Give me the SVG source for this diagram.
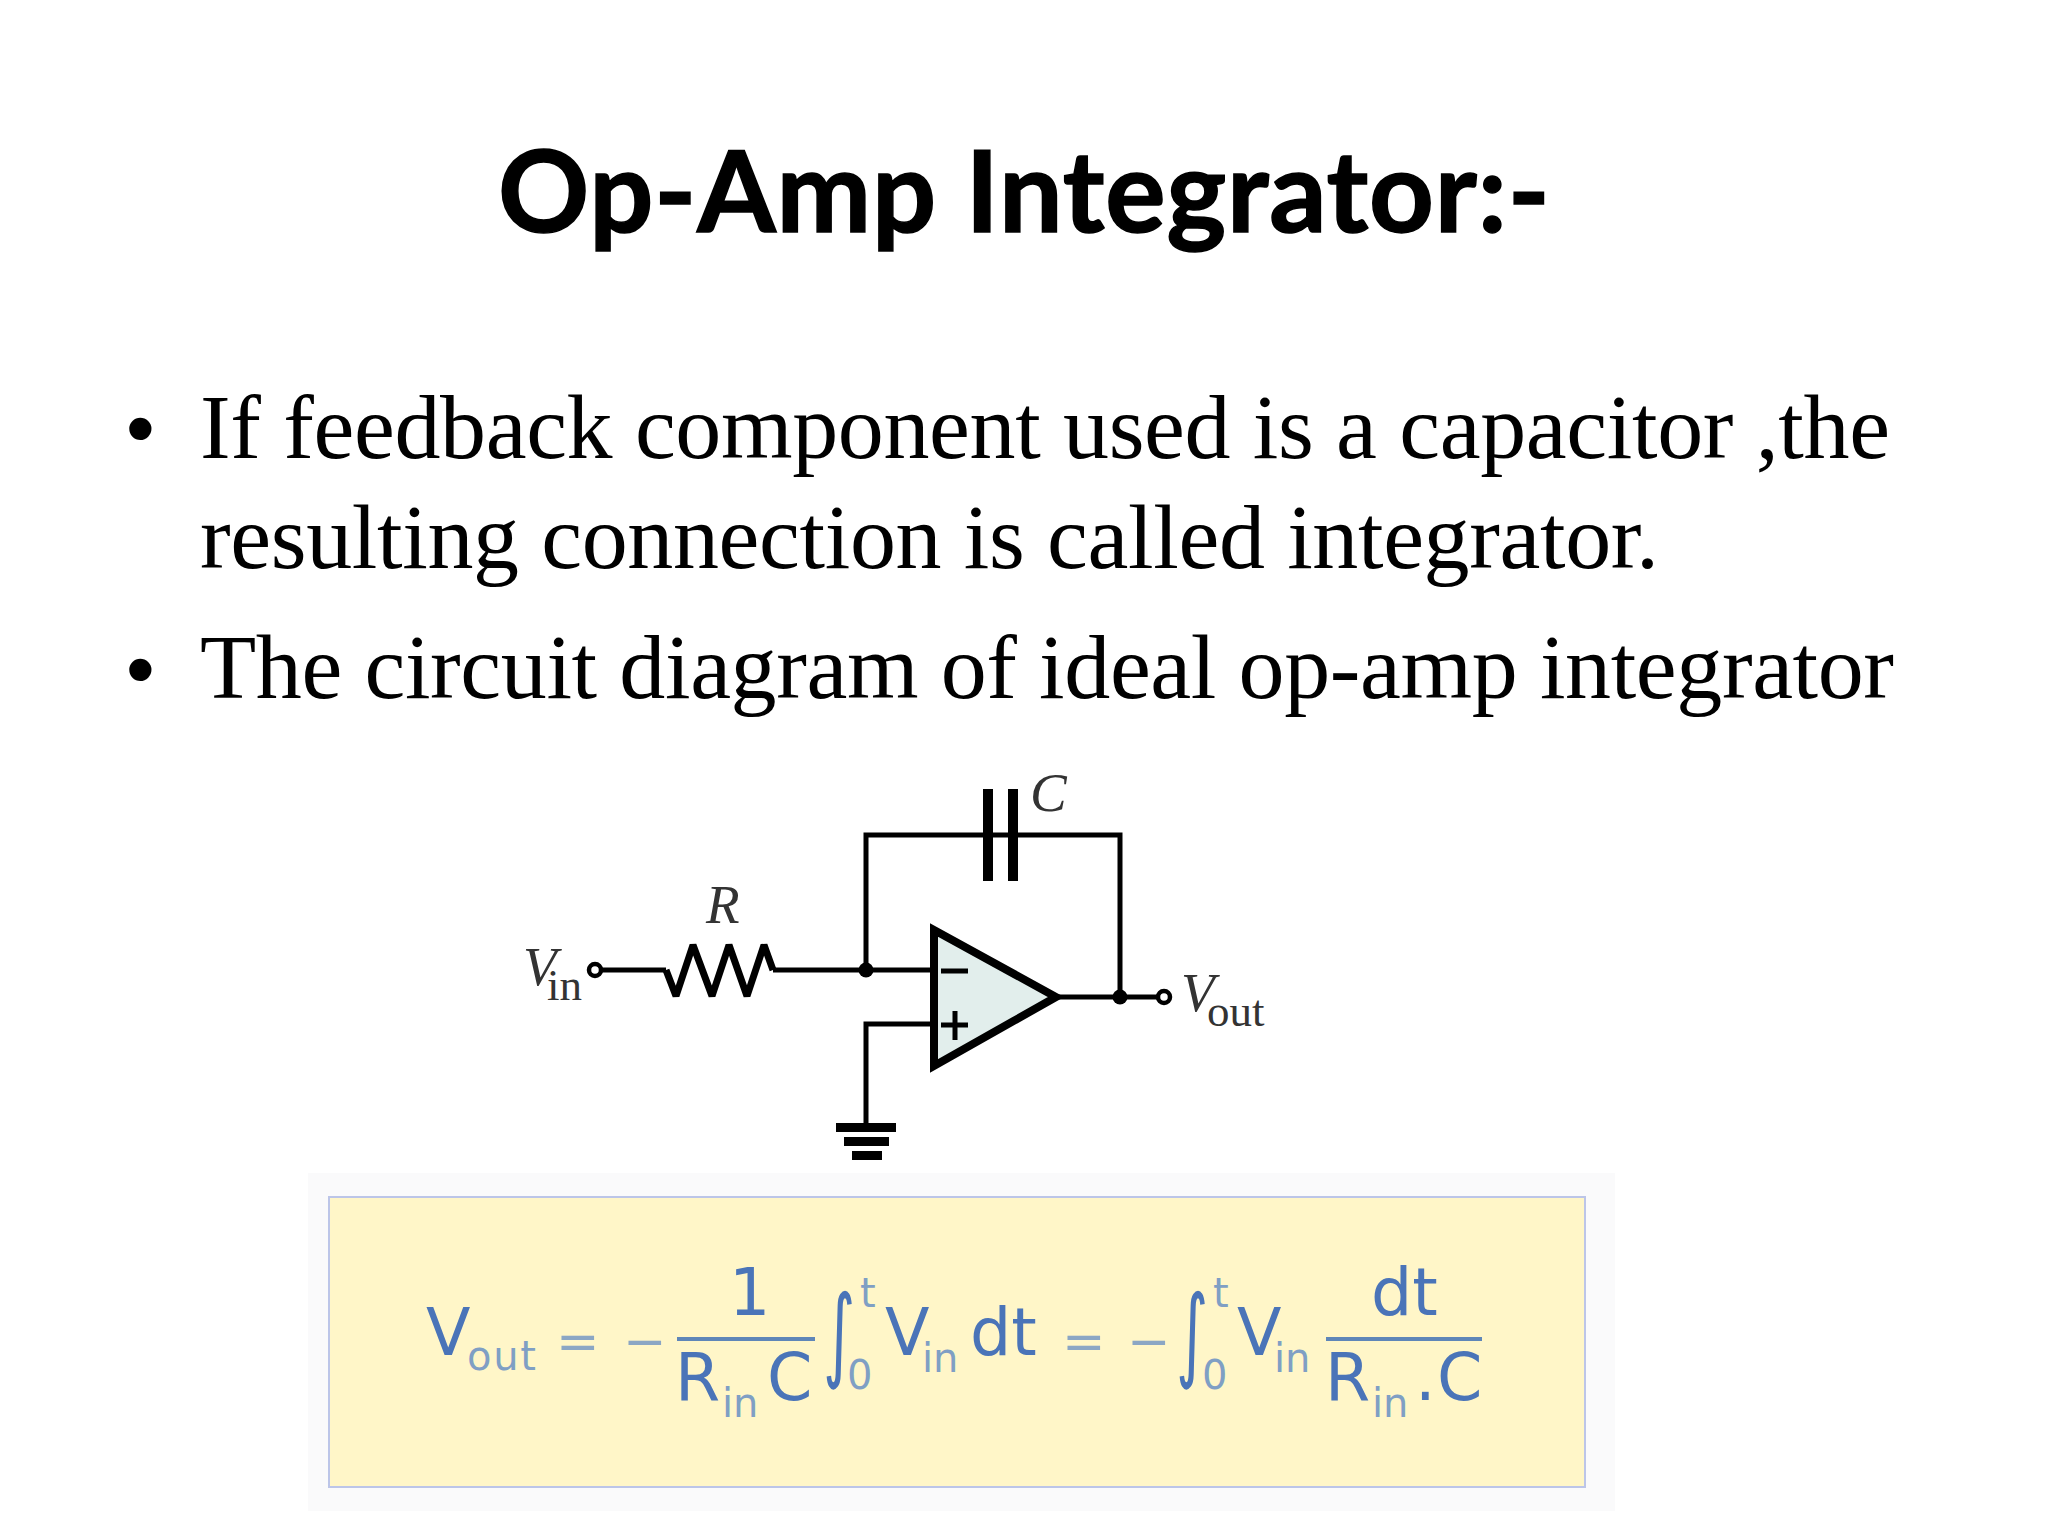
<svg xmlns="http://www.w3.org/2000/svg" width="2048" height="1536" viewBox="0 0 2048 1536">
<style>
.title{font-family:"Lato","Liberation Sans",sans-serif;font-weight:700;font-size:113px;fill:#000;stroke:#000;stroke-width:1.5}
.body{font-family:"Liberation Serif",serif;font-size:92px;fill:#000}
.bullet{font-family:"Liberation Sans",sans-serif;font-size:82px;fill:#000}
.w{fill:none;stroke:#000;stroke-width:5;stroke-linejoin:miter}
.lab{font-family:"Liberation Serif",serif;font-style:italic;font-size:55px;fill:#333}
.sub{font-family:"Liberation Serif",serif;font-size:45px;fill:#333}
.m{font-family:"DejaVu Sans",sans-serif;font-size:65px;fill:#4a74b8}
.s{font-family:"DejaVu Sans",sans-serif;font-size:40px;fill:#7f9fc4}
.o{font-family:"DejaVu Sans",sans-serif;font-size:52px;fill:#8ba6c4}
.i{font-family:"DejaVu Sans",sans-serif;font-size:88px;fill:#4a74b8}
.term{fill:#fff;stroke:#000;stroke-width:4.5}
</style>
<rect width="2048" height="1536" fill="#fff"/>
<g id="title"><text class="title" x="1024" y="232" text-anchor="middle" textLength="1052">Op-Amp Integrator:-</text></g>
<g id="bullets">
<text class="bullet" x="126" y="456">•</text>
<text class="body" x="200" y="458" textLength="1690">If feedback component used is a capacitor ,the</text>
<text class="body" x="200" y="568" textLength="1459">resulting connection is called integrator.</text>
<text class="bullet" x="126" y="697">•</text>
<text class="body" x="200" y="698" textLength="1694">The circuit diagram of ideal op-amp integrator</text>
</g>
<g id="connectors">
<path class="w" d="M600 970H666"/>
<path d="M666 970L676 996L693 945L712 996L729 945L747 996L764 945L773 970" fill="none" stroke="#000" stroke-width="7" stroke-linejoin="bevel"/>
<path class="w" d="M773 970H936"/>
<path class="w" d="M866 970V835H1120V997"/>
<path class="w" d="M936 1024H866V1128"/>
<path class="w" d="M1054 997H1158"/>
</g>
<g id="capacitor">
<rect x="983" y="789" width="10" height="92"/>
<rect x="1008" y="789" width="10" height="92"/>
<text class="lab" x="1030" y="811">C</text>
</g>
<g id="resistor-label"><text class="lab" x="706" y="923">R</text></g>
<g id="opamp">
<path d="M934 930L1056 997L934 1066Z" fill="#e2eeec" stroke="#000" stroke-width="8"/>
<path d="M941 971H968M941 1025H968M955 1011V1040" fill="none" stroke="#000" stroke-width="5"/>
</g>
<g id="junctions">
<circle cx="866" cy="970" r="7.5"/>
<circle cx="1120" cy="997" r="7.5"/>
</g>
<g id="vin">
<circle class="term" cx="595" cy="970" r="6"/>
<text class="lab" x="523" y="985">V</text><text class="sub" x="547" y="1000">in</text>
</g>
<g id="vout">
<circle class="term" cx="1164" cy="997" r="6"/>
<text class="lab" x="1181" y="1011">V</text><text class="sub" x="1207" y="1026">out</text>
</g>
<g id="ground">
<rect x="836" y="1123" width="60" height="9"/>
<rect x="844" y="1137" width="45" height="9"/>
<rect x="852" y="1151" width="30" height="9"/>
</g>
<g id="formula">
<rect x="308" y="1173" width="1307" height="338" fill="#fafafb"/>
<rect x="329" y="1197" width="1256" height="290" fill="#fff6c8" stroke="#bcc5e8" stroke-width="2"/>
<text class="m" x="426" y="1355">V</text><text class="s" x="467" y="1370" textLength="69">out</text>
<text class="o" x="556" y="1359">=</text><text class="o" x="623" y="1359">−</text>
<rect x="677" y="1337" width="138" height="4" fill="#5f86b8"/>
<text class="m" x="729" y="1315">1</text>
<text class="m" x="675" y="1400">R</text><text class="s" x="722" y="1417">in</text><text class="m" x="767" y="1400">C</text>
<text class="i" transform="translate(823 1368) scale(.7 1.16)">∫</text>
<text class="s" x="860" y="1307">t</text><text class="s" x="847" y="1389">0</text>
<text class="m" x="885" y="1355">V</text><text class="s" x="922" y="1372">in</text>
<text class="m" x="970" y="1355">dt</text>
<text class="o" x="1062" y="1359">=</text><text class="o" x="1127" y="1359">−</text>
<text class="i" transform="translate(1176 1368) scale(.7 1.16)">∫</text>
<text class="s" x="1213" y="1307">t</text><text class="s" x="1202" y="1389">0</text>
<text class="m" x="1237" y="1355">V</text><text class="s" x="1274" y="1372">in</text>
<rect x="1326" y="1337" width="156" height="4" fill="#5f86b8"/>
<text class="m" x="1371" y="1315">dt</text>
<text class="m" x="1325" y="1400">R</text><text class="s" x="1372" y="1417">in</text><text class="m" x="1415" y="1400">.</text><text class="m" x="1437" y="1400">C</text>
</g>
</svg>
